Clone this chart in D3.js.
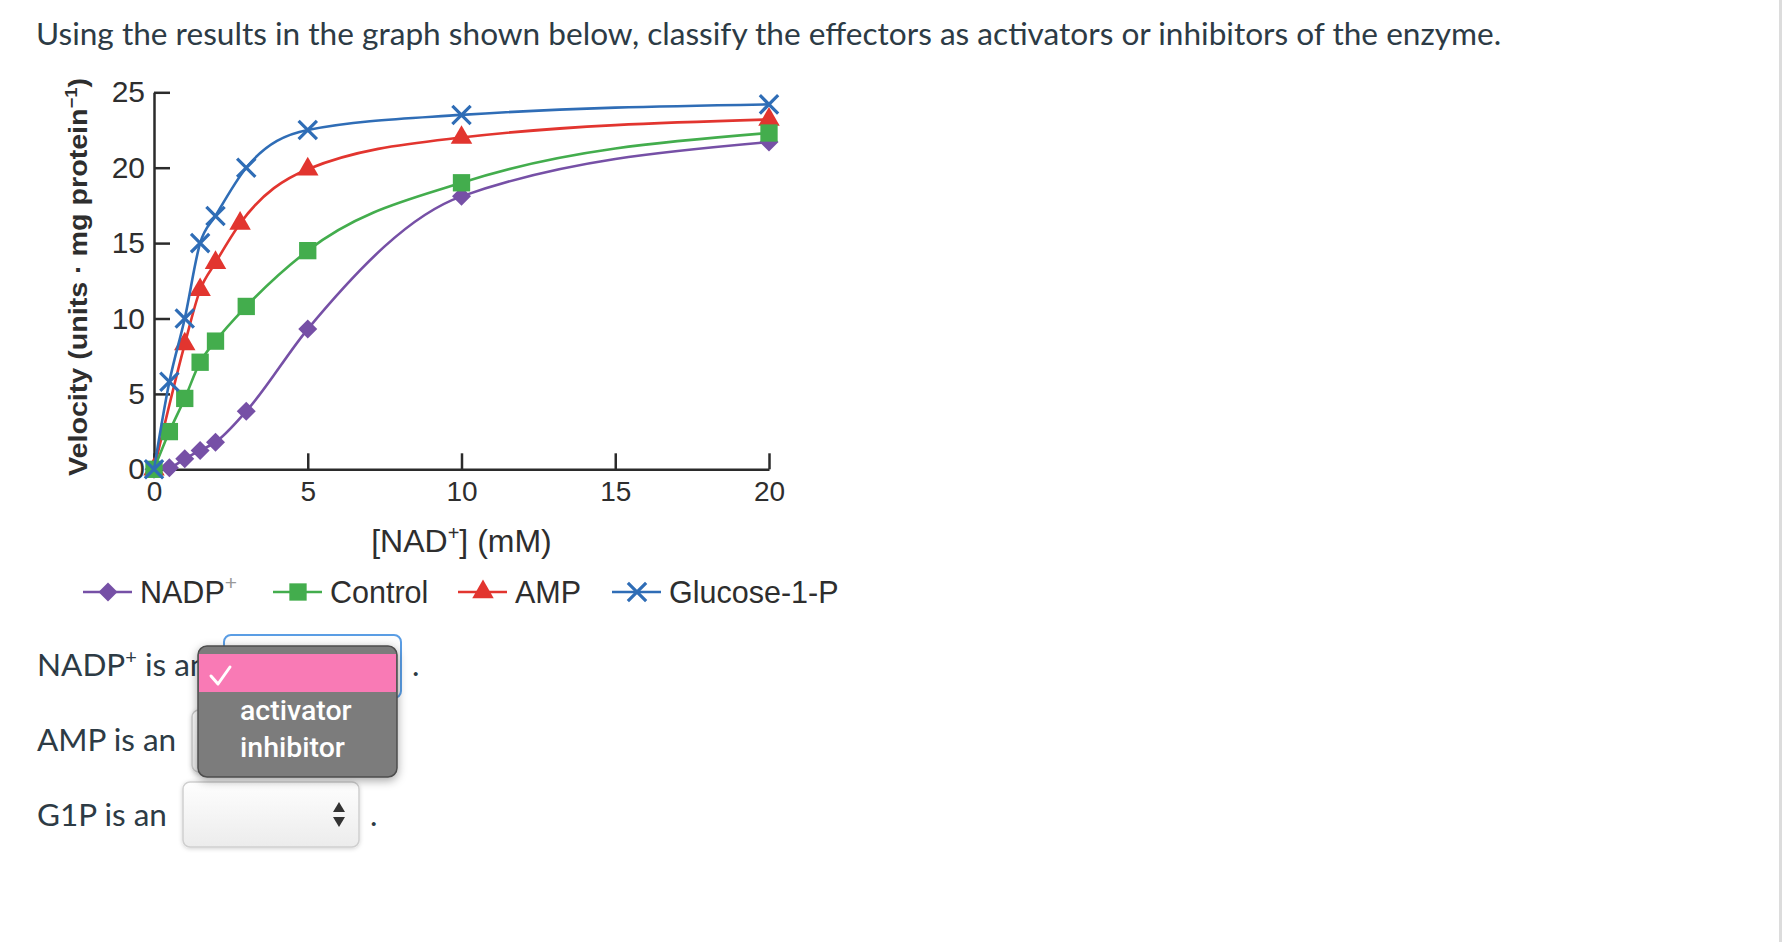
<!DOCTYPE html>
<html>
<head>
<meta charset="utf-8">
<script src="https://cdn.jsdelivr.net/npm/d3@7"></script>
<style>
  html, body { margin: 0; padding: 0; background: #fff; }
  svg { display: block; }
</style>
</head>
<body>
<svg id="page" width="1784" height="942"></svg>
<script>
// ---------- data ----------
const concNADP    = [0, 0.5, 1, 1.5, 2, 3, 5, 10, 20];
const velNADP     = [0, 0.1, 0.7, 1.25, 1.8, 3.85, 9.3, 18.1, 21.7];
const concControl = [0, 0.5, 1, 1.5, 2, 3, 5, 10, 20];
const velControl  = [0, 2.5, 4.7, 7.1, 8.5, 10.8, 14.5, 19.0, 22.3];
const concAMP     = [0, 1, 1.5, 2, 2.8, 5, 10, 20];
const velAMP      = [0, 8.3, 11.9, 13.7, 16.3, 19.9, 22.0, 23.2];
const concG1P     = [0, 0.5, 1, 1.5, 2, 3, 5, 10, 20];
const velG1P      = [0, 5.8, 10.0, 15.0, 16.8, 20.0, 22.5, 23.5, 24.2];

const seriesNames = ["NADP", "Control", "AMP", "Glucose-1-P"];
const xTickValues = [0, 5, 10, 15, 20];
const yTickValues = [0, 5, 10, 15, 20, 25];

const titleText = "Using the results in the graph shown below, classify the effectors as activators or inhibitors of the enzyme.";
const questionSubjects = ["NADP", "AMP", "G1P"];
const menuOptions = ["activator", "inhibitor"];

// ---------- styles ----------
const C = {
  NADP: "#7650a6", Control: "#43ad4d", AMP: "#e2352f", G1P: "#2f6db6",
  axis: "#2b2b2b", text: "#2e2e2e", page: "#2d3b45"
};
const chartFont = "'Liberation Sans', Arial, sans-serif";
const pageFont = "Lato, 'Open Sans', sans-serif";

const svg = d3.select("#page");
const defs = svg.append("defs");
const sh = defs.append("filter").attr("id", "shadow").attr("x", "-20%").attr("y", "-20%").attr("width", "140%").attr("height", "150%");
sh.append("feDropShadow").attr("dx", 0).attr("dy", 3).attr("stdDeviation", 5).attr("flood-color", "#000").attr("flood-opacity", 0.35);
const sh2 = defs.append("filter").attr("id", "softshadow").attr("x", "-20%").attr("y", "-20%").attr("width", "140%").attr("height", "150%");
sh2.append("feDropShadow").attr("dx", 0).attr("dy", 1).attr("stdDeviation", 2).attr("flood-color", "#000").attr("flood-opacity", 0.18);
const grad = defs.append("linearGradient").attr("id", "selgrad").attr("x1", 0).attr("y1", 0).attr("x2", 0).attr("y2", 1);
grad.append("stop").attr("offset", "0%").attr("stop-color", "#fefefe");
grad.append("stop").attr("offset", "100%").attr("stop-color", "#ececec");

// page right border
svg.append("rect").attr("x", 1779).attr("y", 0).attr("width", 3).attr("height", 942).attr("fill", "#dcdcdc");

// title
svg.append("text").attr("x", 36).attr("y", 45)
  .attr("font-family", pageFont).attr("font-size", 31.6).attr("fill", C.page)
  .text(titleText);

// ---------- chart ----------
const x = d3.scaleLinear().domain([0, 20]).range([154, 769]);
const y = d3.scaleLinear().domain([0, 25]).range([469.3, 92.3]);

const gChart = svg.append("g");

const yAxis = gChart.append("g").attr("transform", `translate(${x(0)},0)`)
  .call(d3.axisLeft(y).tickValues(yTickValues).tickSizeInner(-16).tickSizeOuter(0).tickPadding(9));
const xAxis = gChart.append("g").attr("transform", `translate(0,${y(0)})`)
  .call(d3.axisBottom(x).tickValues(xTickValues).tickSizeInner(-16).tickSizeOuter(0).tickPadding(12));

[yAxis, xAxis].forEach(g => {
  g.select(".domain").attr("stroke", C.axis).attr("stroke-width", 2.5);
  g.selectAll(".tick line").attr("stroke", C.axis).attr("stroke-width", 2.5);
  g.selectAll(".tick text").attr("fill", C.text).attr("font-family", chartFont);
});
yAxis.selectAll(".tick text").attr("font-size", 30);
xAxis.selectAll(".tick text").attr("font-size", 28);

// axis titles
const yt = gChart.append("text").attr("transform", "translate(87,277) rotate(-90)")
  .attr("text-anchor", "middle").attr("font-family", chartFont).attr("font-size", 25)
  .attr("font-weight", "bold").attr("fill", C.text)
  .attr("textLength", 398).attr("lengthAdjust", "spacingAndGlyphs");
yt.append("tspan").text("Velocity (units · mg protein");
yt.append("tspan").attr("dy", -10).attr("font-size", 16).text("−1");
yt.append("tspan").attr("dy", 10).text(")");

const xt = gChart.append("text").attr("x", (x(0) + x(20)) / 2).attr("y", 552)
  .attr("text-anchor", "middle").attr("font-family", chartFont).attr("font-size", 32)
  .attr("fill", C.text);
xt.append("tspan").text("[NAD");
xt.append("tspan").attr("dy", -12).attr("font-size", 20).text("+");
xt.append("tspan").attr("dy", 12).text("] (mM)");

// series
const series = [
  { key: "NADP", conc: concNADP, vel: velNADP, color: C.NADP, sym: d3.symbolDiamond2, size: 230, stroke: false },
  { key: "AMP", conc: concAMP, vel: velAMP, color: C.AMP, sym: d3.symbolTriangle, size: 200, stroke: false },
  { key: "Control", conc: concControl, vel: velControl, color: C.Control, sym: d3.symbolSquare, size: 300, stroke: false },
  { key: "G1P", conc: concG1P, vel: velG1P, color: C.G1P, sym: d3.symbolX, size: 220, stroke: true }
];

const line = d3.line().x(d => x(d[0])).y(d => y(d[1])).curve(d3.curveMonotoneX);

function drawMarker(sel, s) {
  const p = sel.append("path").attr("d", d3.symbol(s.sym, s.size)());
  if (s.stroke) p.attr("fill", "none").attr("stroke", s.color).attr("stroke-width", 3.2);
  else p.attr("fill", s.color);
  return p;
}

series.forEach(s => {
  const pts = s.conc.map((c, i) => [c, s.vel[i]]);
  const g = gChart.append("g");
  g.append("path").datum(pts).attr("d", line).attr("fill", "none")
    .attr("stroke", s.color).attr("stroke-width", 2.6);
  pts.forEach(p => {
    const m = g.append("g").attr("transform", `translate(${x(p[0])},${y(p[1])})`);
    drawMarker(m, s);
  });
});

// legend
const legendItems = [
  { s: series[0], label: "NADP", sup: "+", x0: 83 },
  { s: series[2], label: "Control", sup: null, x0: 273 },
  { s: series[1], label: "AMP", sup: null, x0: 458 },
  { s: series[3], label: "Glucose-1-P", sup: null, x0: 612 }
];
const legY = 592;
const gLeg = svg.append("g");
legendItems.forEach(it => {
  const g = gLeg.append("g").attr("transform", `translate(${it.x0},${legY})`);
  g.append("line").attr("x1", 0).attr("x2", 49).attr("y1", 0).attr("y2", 0)
    .attr("stroke", it.s.color).attr("stroke-width", 2.6);
  const m = g.append("g").attr("transform", "translate(25,0)");
  drawMarker(m, it.s);
  const t = g.append("text").attr("x", 57).attr("y", 11).attr("font-family", chartFont)
    .attr("font-size", 30.5).attr("fill", C.text);
  t.append("tspan").text(it.label);
  if (it.sup) t.append("tspan").attr("dy", -13).attr("font-size", 21).attr("fill", "#999").text(it.sup);
});

// ---------- question rows ----------
const rowY = [676, 751, 826];
const gQ = svg.append("g").attr("font-family", pageFont).attr("font-size", 31.5).attr("fill", C.page);
const q0 = gQ.append("text").attr("x", 37).attr("y", rowY[0]);
q0.append("tspan").text(questionSubjects[0]);
q0.append("tspan").attr("dy", -12).attr("font-size", 20).text("+");
q0.append("tspan").attr("dy", 12).text(" is an");
gQ.append("text").attr("x", 37).attr("y", rowY[1]).text(questionSubjects[1] + " is an");
gQ.append("text").attr("x", 37).attr("y", rowY[2]).text(questionSubjects[2] + " is an");

// selects
svg.append("rect").attr("x", 224).attr("y", 635).attr("width", 177).attr("height", 63).attr("rx", 7)
  .attr("fill", "url(#selgrad)").attr("stroke", "#5a9de4").attr("stroke-width", 2);
gQ.append("text").attr("x", 412).attr("y", rowY[0]).text(".");

svg.append("rect").attr("x", 192).attr("y", 710).attr("width", 178).attr("height", 62).attr("rx", 7)
  .attr("fill", "url(#selgrad)").attr("stroke", "#c9c9c9").attr("stroke-width", 1.5).attr("filter", "url(#softshadow)");

svg.append("rect").attr("x", 183).attr("y", 782).attr("width", 176).attr("height", 65).attr("rx", 7)
  .attr("fill", "url(#selgrad)").attr("stroke", "#cfcfcf").attr("stroke-width", 1.5).attr("filter", "url(#softshadow)");
svg.append("path").attr("d", "M333,812 L339,802 L345,812 Z").attr("fill", "#333");
svg.append("path").attr("d", "M333,817 L339,827 L345,817 Z").attr("fill", "#333");
gQ.append("text").attr("x", 370).attr("y", rowY[2]).text(".");

// open dropdown menu
const gM = svg.append("g");
gM.append("rect").attr("x", 198).attr("y", 646).attr("width", 199).attr("height", 131).attr("rx", 9)
  .attr("fill", "#7b7b7b").attr("stroke", "#4d4d4d").attr("stroke-width", 1.5).attr("filter", "url(#shadow)");
gM.append("rect").attr("x", 199).attr("y", 654).attr("width", 197).attr("height", 38).attr("fill", "#f97ab5");
gM.append("path").attr("d", "M211,676 L218,684 L230,667").attr("fill", "none")
  .attr("stroke", "#fff").attr("stroke-width", 3).attr("stroke-linecap", "round").attr("stroke-linejoin", "round");
menuOptions.forEach((o, i) => {
  gM.append("text").attr("x", 240).attr("y", 720 + i * 37).attr("font-family", "Roboto, 'Open Sans', sans-serif")
    .attr("font-weight", 500).attr("font-size", 28.5).attr("fill", "#fff").text(o);
});
</script>
</body>
</html>
